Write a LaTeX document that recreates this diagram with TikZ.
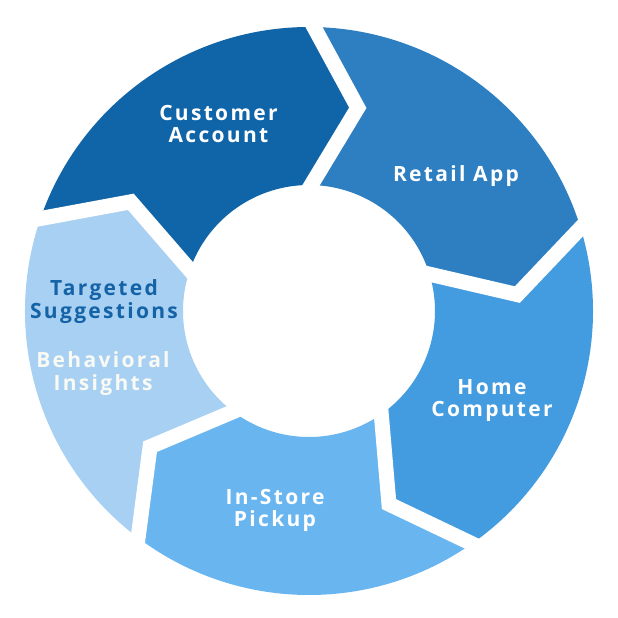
\documentclass[tikz,border=0pt]{standalone}
\usepackage{fontspec}
\setmainfont{Open Sans}[LetterSpace=11]
\usetikzlibrary{calc}
\definecolor{cAcc}{HTML}{1065A8}
\definecolor{cApp}{HTML}{2D7FC1}
\definecolor{cHome}{HTML}{449CE0}
\definecolor{cStore}{HTML}{69B5EF}
\definecolor{cBeh}{HTML}{A7D0F2}
\definecolor{cTxtDark}{HTML}{1563A7}
\definecolor{cTxtLight}{HTML}{FAFAF5}
\newcommand\Rout{284pt}
\newcommand\Rin{126pt}
\newcommand\Rmid{209pt}
\newcommand\ringseg[3]{%
  \fill[#1] (#2:\Rout) arc[start angle=#2, end angle=#3, radius=\Rout]
    -- (#3-12.5:\Rmid) -- (#3:\Rin)
    arc[start angle=#3, end angle=#2, radius=\Rin]
    -- (#2-12.5:\Rmid) -- cycle;}
\newcommand\gapline[1]{%
  \draw[gapl] ($(#1-12.5:\Rmid)!1.4!(#1:\Rout)$) -- (#1-12.5:\Rmid)
    -- ($(#1-12.5:\Rmid)!1.4!(#1:\Rin)$);}
\tikzset{
  gapl/.style={white, line width=15pt, line join=miter},
  lbl/.style={font=\fontsize{21}{22.7}\selectfont\bfseries, text=white,
    align=center, inner sep=0pt, anchor=base}
}
\begin{document}
\begin{tikzpicture}
\useasboundingbox[fill=white] (0,0) rectangle (618pt,-618pt);
\begin{scope}[shift={(309pt,-311pt)}]
  \ringseg{cAcc}{161}{89}
  \ringseg{cApp}{89}{17}
  \ringseg{cHome}{17}{-55}
  \ringseg{cStore}{-55}{-127}
  \ringseg{cBeh}{-127}{-199}
  \gapline{89}
  \gapline{17}
  \gapline{-55}
  \gapline{-127}
  \gapline{161}
\end{scope}
\node[lbl] (acc) at (218.5pt,-142.7pt) {Customer\\Account};
\node[lbl] (app) at (456pt,-181pt) {Retail App};
\node[lbl] (home) at (492pt,-416.7pt) {Home\\Computer};
\node[lbl] (store) at (275pt,-526.7pt) {In-Store\\Pickup};
\node[lbl, text=cTxtDark] (tgt) at (104pt,-318pt) {Targeted\\Suggestions};
\node[lbl, text=cTxtLight] (beh) at (103pt,-390pt) {Behavioral\\Insights};
\end{tikzpicture}
\end{document}
